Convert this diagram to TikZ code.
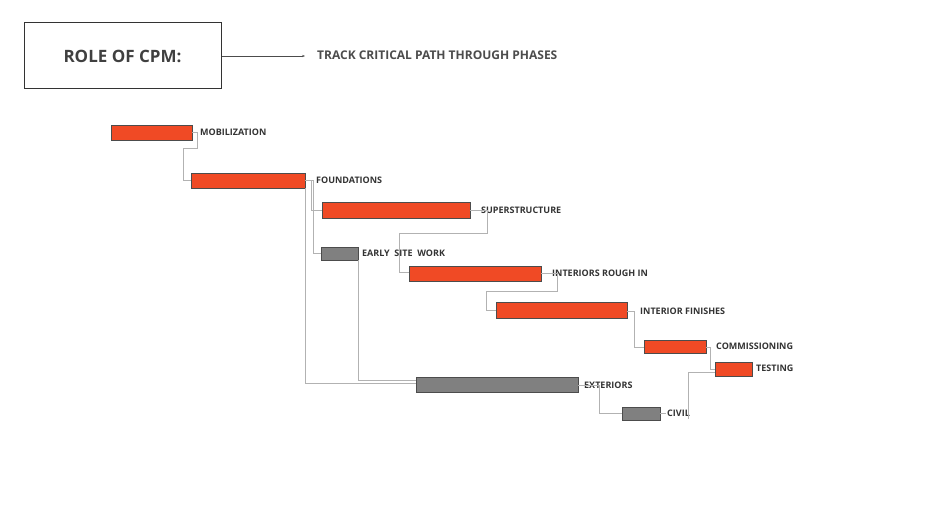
\documentclass[tikz,border=0pt]{standalone}
\usepackage{fontspec}
\setmainfont{Open Sans}
\usetikzlibrary{arrows.meta}
\definecolor{crit}{HTML}{F04A25}
\definecolor{noncrit}{HTML}{808080}
\definecolor{txt}{HTML}{333333}
\begin{document}
\begin{tikzpicture}[x=1pt,y=-1pt,
  bar/.style={draw=black!70,line width=0.6pt},
  lbl/.style={anchor=west,inner sep=0pt,font=\bfseries\fontsize{9}{10}\selectfont,text=txt},
  link/.style={draw=black!30,line width=0.6pt}]
\useasboundingbox (0,0) rectangle (936,524);
\node[draw=black!80,line width=1pt,minimum width=197pt,minimum height=66pt,inner sep=0pt,font=\bfseries\fontsize{17}{20}\selectfont,text=black!75] (role) at (122.5,56) {ROLE OF CPM:};
\coordinate (arr) at (305,56);
\draw[black!70,-{Stealth[length=3pt]},line width=0.5pt] (role.east) -- (arr);
\node[lbl,font=\bfseries\fontsize{12}{14}\selectfont,text=black!70] (track) at (317,55) {TRACK CRITICAL PATH THROUGH PHASES};
% bars
\path[bar,fill=crit] (111,125) rectangle (192,140); \coordinate (mobR) at (192,132);
\node[lbl] (mob) at (200,132) {MOBILIZATION};
\path[bar,fill=crit] (191,173) rectangle (305,188);
\node[lbl] (fnd) at (316,180) {FOUNDATIONS};
\path[bar,fill=crit] (322,202) rectangle (470,218);
\node[lbl] (sup) at (481,210) {SUPERSTRUCTURE};
\path[bar,fill=noncrit] (321,247) rectangle (358,260);
\node[lbl] (esw) at (362,253) {EARLY\ \ SITE\ \ WORK};
\path[bar,fill=crit] (409,266) rectangle (541,281);
\node[lbl] (iri) at (552,273) {INTERIORS ROUGH IN};
\path[bar,fill=crit] (496,302) rectangle (627,318);
\node[lbl] (ifn) at (640,311) {INTERIOR FINISHES};
\path[bar,fill=crit] (644,340) rectangle (706,353);
\node[lbl] (com) at (716,346) {COMMISSIONING};
\path[bar,fill=crit] (715,362) rectangle (752,376);
\node[lbl] (tst) at (756,368) {TESTING};
\path[bar,fill=noncrit] (416,377) rectangle (578,392);
\node[lbl] (ext) at (584,385) {EXTERIORS};
\path[bar,fill=noncrit] (622,407) rectangle (660,420);
\node[lbl] (civ) at (667,413) {CIVIL};
% links
\draw[link] (192,132) -- (197,132) -- (197,148) -- (183,148) -- (183,180) -- (191,180);
\draw[link] (305,180) -- (311,180) -- (311,210) -- (322,210);
\draw[link] (311,180) -- (313,180) |- (321,253);
\draw[link] (305,188) -- (305,383) -- (416,383);
\draw[link] (470,210) -- (487,210) -- (487,233) -- (399,233) -- (399,272) -- (409,272);
\draw[link] (358,260) -- (358,380) -- (416,380);
\draw[link] (541,273) -- (557,273) -- (557,291) -- (486,291) -- (486,310) -- (496,310);
\draw[link] (627,311) -- (634,311) -- (634,347) -- (644,347);
\draw[link] (706,347) -- (710,347) -- (710,369) -- (715,369);
\draw[link] (578,385) -- (599,385) -- (599,413) -- (622,413);
\draw[link] (660,413) -- (666,413);
\draw[link] (688,419) -- (688,372) -- (715,372);
\end{tikzpicture}
\end{document}
